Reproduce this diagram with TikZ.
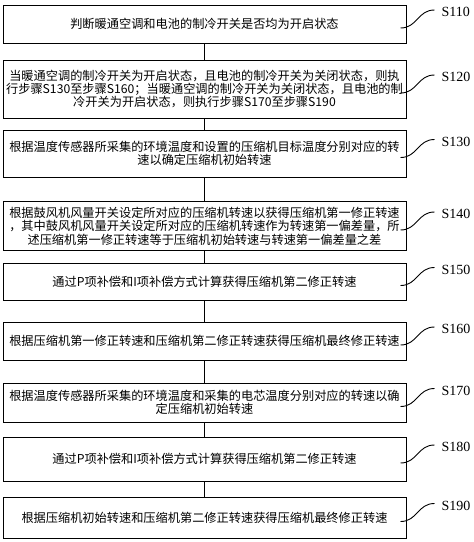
\documentclass[tikz,border=0pt]{standalone}
\usepackage{fontspec}
\setmainfont{Liberation Serif}
\newfontfamily\cjk{Noto Sans CJK SC}
\tikzset{
  stepbox/.style={draw=black, line width=1pt, minimum width=403pt, inner sep=2pt, align=center,
    font=\cjk\fontsize{12.2}{13.4}\selectfont, anchor=center},
  conn/.style={draw=black, line width=1pt},
  lab/.style={anchor=west, inner sep=0pt, font=\fontsize{14}{14}\selectfont},
  squig/.style={draw=black, line width=0.9pt}
}
\begin{document}
\begin{tikzpicture}[x=1pt,y=-1pt]
\useasboundingbox[fill=white] (0,0) rectangle (474,542);
% boxes: center y, height
\node[stepbox, minimum height=38pt] (b1) at (204.5,24) {判断暖通空调和电池的制冷开关是否均为开启状态};
\node[stepbox, minimum height=58pt] (b2) at (204.5,89) {当暖通空调的制冷开关为开启状态，且电池的制冷开关为关闭状态，则执\\行步骤S130至步骤S160；当暖通空调的制冷开关为关闭状态，且电池的制\\冷开关为开启状态，则执行步骤S170至步骤S190};
\node[stepbox, minimum height=47pt] (b3) at (204.5,153.5) {根据温度传感器所采集的环境温度和设置的压缩机目标温度分别对应的转\\速以确定压缩机初始转速};
\node[stepbox, minimum height=49pt] (b4) at (204.5,226) {根据鼓风机风量开关设定所对应的压缩机转速以获得压缩机第一修正转速\\，其中鼓风机风量开关设定所对应的压缩机转速作为转速第一偏差量，所\\述压缩机第一修正转速等于压缩机初始转速与转速第一偏差量之差};
\node[stepbox, minimum height=37pt] (b5) at (204.5,281.5) {通过P项补偿和I项补偿方式计算获得压缩机第二修正转速};
\node[stepbox, minimum height=38pt] (b6) at (204.5,341) {根据压缩机第一修正转速和压缩机第二修正转速获得压缩机最终修正转速};
\node[stepbox, minimum height=39pt] (b7) at (204.5,402.5) {根据温度传感器所采集的环境温度和采集的电芯温度分别对应的转速以确\\定压缩机初始转速};
\node[stepbox, minimum height=44pt] (b8) at (204.5,459) {通过P项补偿和I项补偿方式计算获得压缩机第二修正转速};
\node[stepbox, minimum height=41pt] (b9) at (204.5,517.5) {根据压缩机初始转速和压缩机第二修正转速获得压缩机最终修正转速};
% connectors
\foreach \a/\b in {b1/b2,b2/b3,b3/b4,b4/b5,b5/b6,b6/b7,b7/b8,b8/b9}
  \draw[conn] (\a) -- (\b);
% labels with squiggles
\foreach \n/\t in {1/S110,2/S120,3/S130,4/S140,5/S150,6/S160,7/S170,8/S180,9/S190}{
  \coordinate (s\n) at ([xshift=-6pt,yshift=-4pt]b\n.east);
  \coordinate (e\n) at ([xshift=28pt,yshift=14pt]b\n.east);
  \node[lab] (l\n) at ([xshift=7pt,yshift=-2pt]e\n) {\t};
  \draw[squig] (s\n) .. controls ([xshift=17pt]s\n) and ([xshift=-17pt]e\n) .. (e\n);
}
\end{tikzpicture}
\end{document}
